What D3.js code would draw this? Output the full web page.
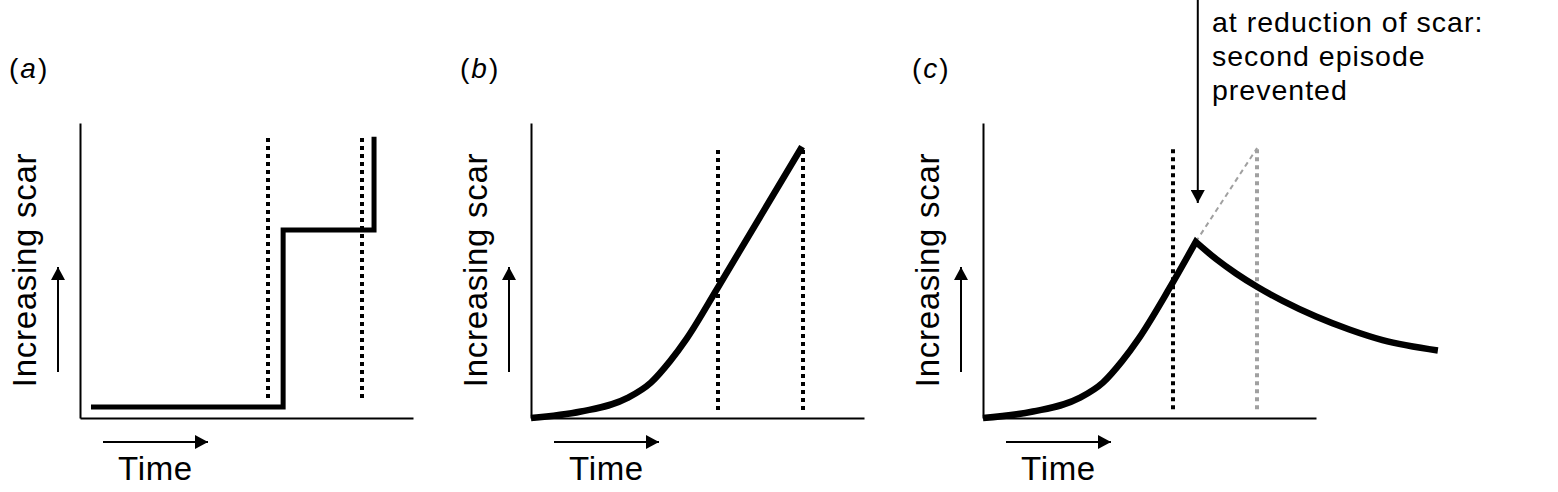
<!DOCTYPE html>
<html lang="en">
<head>
    <meta charset="UTF-8">
    <title>Scar over time</title>
    <style>
        body {
            margin: 0;
            background-color: #fff;
        }
        svg {
            display: block;
            font-family: "Liberation Sans", Arial, sans-serif;
        }
        .axis path {
            stroke: #000;
            stroke-width: 2;
        }
        .label {
            font-size: 33px;
            letter-spacing: 0.7px;
        }
        .note {
            font-size: 28.5px;
            letter-spacing: 1px;
        }
        .panel-tag {
            font-size: 28px;
        }
    </style>
</head>
<body>
    <svg id="chart" width="1558" height="492"></svg>
    <script src="https://d3js.org/d3.v7.min.js"></script>
    <script>
        // all values in arbitrary units: time 0-100 along axis, scar 0-100 up the axis
        const panelTags = ['a', 'b', 'c'];

        // (a) scar jumps at each episode
        const stepA = [[3.3, 3.7], [61, 63.7], [88.3, 95.3]];
        const episodesA = [56.5, 84.7];
        const episodeSpanA = [6.8, 95.3];

        // (b) scar keeps growing
        const riseB = [[0, 0], [15, 2.2], [29, 6.8], [36, 12], [41.7, 19.2], [46.8, 27],
                       [56, 44], [81.4, 92]];
        const episodesB = [56.2, 81.7];
        const episodeSpanB = [2.7, 91.9];

        // (c) treatment at peak, scar reduces
        const riseC = [[0, 0], [15, 2.2], [29, 6.8], [36, 12], [41.7, 19.2], [46.8, 27],
                       [56, 44], [63.9, 59.7]];
        const decayC = [[63.9, 59.7], [70, 53.9], [76, 49], [82.3, 44.5], [90, 39.7],
                        [100, 34.4], [110, 30], [120, 26.4], [136.6, 22.9]];
        const projectedC = [[63.9, 59.7], [82.3, 91.5]];
        const episodesC = [57, 82.3];
        const episodeSpanC = [3, 91.5];

        const yLabel = 'Increasing scar';
        const xLabel = 'Time';
        const noteLines = ['at reduction of scar:', 'second episode', 'prevented'];

        const svg = d3.select('#chart');

        const defs = svg.append('defs');
        defs.append('marker')
            .attr('id', 'head')
            .attr('viewBox', '0 -7 13 14')
            .attr('markerUnits', 'userSpaceOnUse')
            .attr('markerWidth', 13)
            .attr('markerHeight', 14)
            .attr('refX', 13)
            .attr('refY', 0)
            .attr('orient', 'auto')
            .append('path')
            .attr('d', 'M0,-7L13,0L0,7Z')
            .attr('fill', '#000');

        const axisLeftX = [80, 531, 983];
        const plotW = 333;
        const plotBottom = 418, plotTop = 123;

        function makePanel(i) {
            const ax = axisLeftX[i];
            const x = d3.scaleLinear().domain([0, 100]).range([ax, ax + plotW]);
            const y = d3.scaleLinear().domain([0, 100]).range([plotBottom, plotTop]);
            const g = svg.append('g');

            g.append('g')
                .attr('class', 'axis')
                .attr('transform', `translate(${ax},0)`)
                .call(d3.axisLeft(y).tickValues([]).tickSizeOuter(0));
            g.append('g')
                .attr('class', 'axis')
                .attr('transform', `translate(0,${plotBottom})`)
                .call(d3.axisBottom(x).tickValues([]).tickSizeOuter(0));

            // panel tag (a) (b) (c)
            const tag = g.append('text')
                .attr('class', 'panel-tag')
                .attr('x', ax - 71)
                .attr('y', 78);
            tag.append('tspan').text('(');
            tag.append('tspan').attr('font-style', 'italic').attr('dx', 2).text(panelTags[i]);
            tag.append('tspan').attr('dx', 2).text(')');

            // y label + arrow
            g.append('text')
                .attr('class', 'label')
                .attr('transform', `translate(${ax - 44},270) rotate(-90)`)
                .attr('text-anchor', 'middle')
                .text(yLabel);
            g.append('line')
                .attr('x1', ax - 22).attr('x2', ax - 22)
                .attr('y1', 372).attr('y2', 267)
                .attr('stroke', '#000').attr('stroke-width', 2)
                .attr('marker-end', 'url(#head)');

            // x label + arrow
            g.append('line')
                .attr('x1', ax + 23).attr('x2', ax + 128)
                .attr('y1', 442).attr('y2', 442)
                .attr('stroke', '#000').attr('stroke-width', 2)
                .attr('marker-end', 'url(#head)');
            g.append('text')
                .attr('class', 'label')
                .attr('x', ax + 38)
                .attr('y', 480)
                .text(xLabel);

            return {g, x, y};
        }

        function episodeLines(p, xs, span, colors) {
            p.g.selectAll(null)
                .data(xs)
                .enter()
                .append('line')
                .attr('x1', d => Math.round(p.x(d))).attr('x2', d => Math.round(p.x(d)))
                .attr('y1', p.y(span[0])).attr('y2', p.y(span[1]))
                .attr('stroke', (d, k) => colors[k])
                .attr('stroke-width', 4)
                .attr('stroke-dasharray', '4,4');
        }

        // panel a
        const pa = makePanel(0);
        episodeLines(pa, episodesA, episodeSpanA, ['#000', '#000']);
        pa.g.append('path')
            .attr('d', d3.line().x(d => pa.x(d[0])).y(d => pa.y(d[1])).curve(d3.curveStepAfter)(stepA))
            .attr('fill', 'none')
            .attr('stroke', '#000')
            .attr('stroke-width', 5);

        // panel b
        const pb = makePanel(1);
        episodeLines(pb, episodesB, episodeSpanB, ['#000', '#000']);
        pb.g.append('path')
            .attr('d', d3.line().x(d => pb.x(d[0])).y(d => pb.y(d[1])).curve(d3.curveMonotoneX)(riseB))
            .attr('fill', 'none')
            .attr('stroke', '#000')
            .attr('stroke-width', 6.5);

        // panel c
        const pc = makePanel(2);
        episodeLines(pc, episodesC, episodeSpanC, ['#000', '#a0a0a0']);
        pc.g.append('path')
            .attr('d', d3.line().x(d => pc.x(d[0])).y(d => pc.y(d[1]))(projectedC))
            .attr('fill', 'none')
            .attr('stroke', '#a0a0a0')
            .attr('stroke-width', 2)
            .attr('stroke-dasharray', '5,4');
        const lineC = d3.line().x(d => pc.x(d[0])).y(d => pc.y(d[1])).curve(d3.curveMonotoneX);
        pc.g.append('path')
            .attr('d', lineC(riseC) + lineC(decayC).replace(/^M/, 'L'))
            .attr('fill', 'none')
            .attr('stroke', '#000')
            .attr('stroke-width', 6.5)
            .attr('stroke-linejoin', 'miter');

        // annotation arrow pointing at the peak
        const peak = riseC[riseC.length - 1];
        pc.g.append('line')
            .attr('x1', pc.x(peak[0]) + 2).attr('x2', pc.x(peak[0]) + 2)
            .attr('y1', 0).attr('y2', 203)
            .attr('stroke', '#000').attr('stroke-width', 2)
            .attr('marker-end', 'url(#head)');

        svg.append('g')
            .selectAll('text')
            .data(noteLines)
            .enter()
            .append('text')
            .attr('class', 'note')
            .attr('x', 1212)
            .attr('y', (d, k) => 32 + k * 34)
            .text(d => d);
    </script>
</body>
</html>
